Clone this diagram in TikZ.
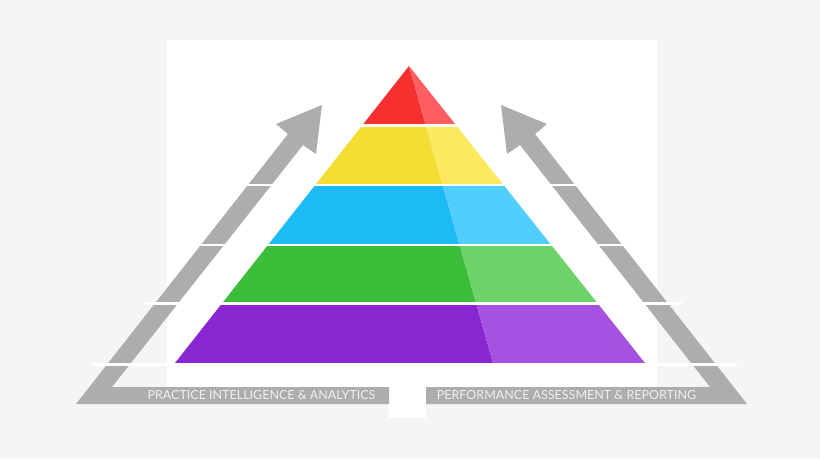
\documentclass[tikz,border=0pt]{standalone}
\usepackage{fontspec}
\setmainfont{Lato}
\usetikzlibrary{calc}
\definecolor{pagebg}{HTML}{F5F5F5}
\definecolor{arrowgray}{HTML}{ADADAD}
\definecolor{reddark}{HTML}{F5302F}
\definecolor{redlight}{HTML}{FF5D5F}
\definecolor{yellowdark}{HTML}{F4DE34}
\definecolor{yellowlight}{HTML}{FDE95F}
\definecolor{cyandark}{HTML}{1CBBF4}
\definecolor{cyanlight}{HTML}{50CFFD}
\definecolor{greendark}{HTML}{3CBE3A}
\definecolor{greenlight}{HTML}{6DD36A}
\definecolor{purpledark}{HTML}{8A26D0}
\definecolor{purplelight}{HTML}{A452DF}
\begin{document}
\begin{tikzpicture}[x=1pt,y=-1pt,
    bandtext/.style={text=white!94!black,inner sep=0pt,font=\fontsize{12.5}{14}\selectfont},
    sepline/.style={draw=white,line width=2.5pt}]
  \useasboundingbox (0,0) rectangle (820,459);
  \fill[pagebg] (0,0) rectangle (820,459);
  \fill[white] (167,40) rectangle (657,387);
  \fill[white] (389,387) rectangle (426,418);
  % arrows with their bands
  \fill[arrowgray] (76,404) -- (389,404) -- (389,387) -- (112,387) -- (303,145)
    -- (316,154) -- (322,105) -- (276,124) -- (288,134) -- cycle;
  \fill[arrowgray] (747,404) -- (426,404) -- (426,387) -- (710,387) -- (520,145)
    -- (507,154) -- (501,105) -- (547,124) -- (535,134) -- cycle;
  % pyramid
  \coordinate (apex) at (409,66);
  \coordinate (baseleft) at (175,363);
  \coordinate (baseright) at (645,363);
  \coordinate (basesplit) at (493,363);
  \foreach \k/\dark/\light in {0/reddark/redlight,1/yellowdark/yellowlight,
      2/cyandark/cyanlight,3/greendark/greenlight,4/purpledark/purplelight} {
    \pgfmathsetmacro\ta{\k/5}
    \pgfmathsetmacro\tb{(\k+1)/5}
    \fill[\dark] ($(apex)!\ta!(baseleft)$) -- ($(apex)!\tb!(baseleft)$)
      -- ($(apex)!\tb!(basesplit)$) -- ($(apex)!\ta!(basesplit)$) -- cycle;
    \fill[\light] ($(apex)!\ta!(basesplit)$) -- ($(apex)!\tb!(basesplit)$)
      -- ($(apex)!\tb!(baseright)$) -- ($(apex)!\ta!(baseright)$) -- cycle;
  }
  % white lines between the layers
  \foreach \y/\xa/\xb in {125.4/330/495,185.2/247/576,245/199/624,
      303.6/143/682,364.5/93/737}
    \draw[sepline] (\xa,\y) -- (\xb,\y);
  \node[bandtext] (leftlabel) at (261.5,395.5) {PRACTICE INTELLIGENCE \& ANALYTICS};
  \node[bandtext] (rightlabel) at (566.5,395.5) {PERFORMANCE ASSESSMENT \& REPORTING};
\end{tikzpicture}
\end{document}
